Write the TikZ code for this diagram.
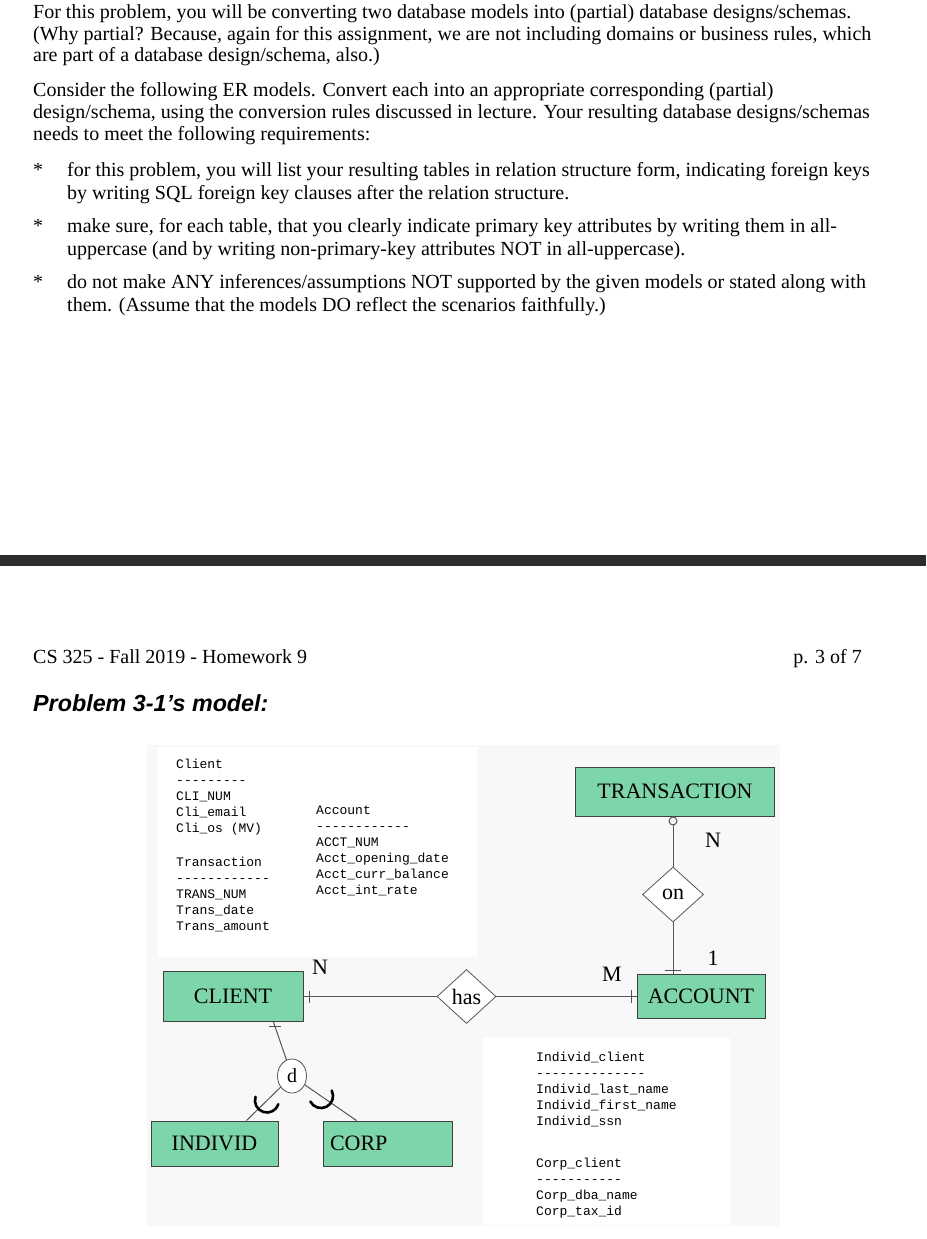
\documentclass[tikz,border=0pt]{standalone}
\usepackage{fontspec}
\setmainfont{Liberation Serif}
\setsansfont{Liberation Sans}
\setmonofont{Liberation Mono}
\usetikzlibrary{shapes.geometric, positioning, calc}

\definecolor{entgreen}{RGB}{124,214,169}
\definecolor{bggray}{RGB}{248,248,248}
\definecolor{linegray}{RGB}{85,85,85}
\definecolor{bardark}{RGB}{45,45,45}

\tikzset{
  bodytext/.style={anchor=base west, inner sep=0pt, font=\fontsize{20}{22}\selectfont},
  attr/.style={anchor=base west, inner sep=0pt, font=\ttfamily\fontsize{13}{16}\selectfont},
  entity/.style={rectangle, draw=black!75, fill=entgreen, line width=0.9pt, inner sep=0pt, font=\fontsize{22}{24}\selectfont},
  rel/.style={diamond, draw=linegray, fill=white, line width=0.8pt, inner sep=0pt, font=\fontsize{22}{24}\selectfont},
  card/.style={inner sep=0pt, font=\fontsize{22}{24}\selectfont},
  conn/.style={draw=linegray, line width=1pt},
  subsetmark/.style={line width=2.6pt, line cap=round}
}

\begin{document}
\begin{tikzpicture}[x=1pt, y=-1pt]
  \fill[white] (0,0) rectangle (926,1239);
  \useasboundingbox (0,0) rectangle (926,1239);

  % problem text
  \foreach \y/\txt [count=\i] in {
      19/{For this problem, you will be converting two database models into (partial) database designs/schemas.},
      40.5/{(Why partial? Because, again for this assignment, we are not including domains or business rules, which},
      62/{are part of a database design/schema, also.)},
      96/{Consider the following ER models. Convert each into an appropriate corresponding (partial)},
      118/{design/schema, using the conversion rules discussed in lecture. Your resulting database designs/schemas},
      140/{needs to meet the following requirements:}}
    \node[bodytext] (intro\i) at (33,\y) {\txt};
  \foreach \y [count=\i] in {176, 232, 288}
    \node[bodytext] (star\i) at (33,\y) {*};
  \foreach \y/\txt [count=\i] in {
      176/{for this problem, you will list your resulting tables in relation structure form, indicating foreign keys},
      199/{by writing SQL foreign key clauses after the relation structure.},
      232/{make sure, for each table, that you clearly indicate primary key attributes by writing them in all-},
      255/{uppercase (and by writing non-primary-key attributes NOT in all-uppercase).},
      288/{do not make ANY inferences/assumptions NOT supported by the given models or stated along with},
      311/{them. (Assume that the models DO reflect the scenarios faithfully.)}}
    \node[bodytext] (req\i) at (67,\y) {\txt};

  % page break
  \fill[bardark] (0,555) rectangle (926,566);
  \node[bodytext] (hdr) at (33,663) {CS 325 - Fall 2019 - Homework 9};
  \node[bodytext, anchor=base east] (pageno) at (862,663) {p. 3 of 7};
  \node[anchor=base west, inner sep=0pt, font=\sffamily\bfseries\itshape\fontsize{23.3}{26}\selectfont] (probtitle) at (33,711.5) {Problem 3-1's model:};

  % model background
  \fill[bggray] (147,745) rectangle (780,1226);
  \fill[white] (158,747) rectangle (477,957);
  \fill[white] (483,1038) rectangle (730,1225);

  % attribute lists
  \foreach \t [count=\i] in {Client, ---------, CLI\_NUM, Cli\_email, Cli\_os (MV)}
    \node[attr] (cli\i) at (176, 752.5+16*\i) {\t};
  \foreach \t [count=\i] in {Transaction, ------------, TRANS\_NUM, Trans\_date, Trans\_amount}
    \node[attr] (tra\i) at (176, 850.5+16*\i) {\t};
  \foreach \t [count=\i] in {Account, ------------, ACCT\_NUM, Acct\_opening\_date, Acct\_curr\_balance, Acct\_int\_rate}
    \node[attr] (acc\i) at (316, 798.5+16*\i) {\t};
  \foreach \t [count=\i] in {Individ\_client, --------------, Individ\_last\_name, Individ\_first\_name, Individ\_ssn}
    \node[attr] (ind\i) at (536, 1045.5+16*\i) {\t};
  \foreach \t [count=\i] in {Corp\_client, -----------, Corp\_dba\_name, Corp\_tax\_id}
    \node[attr] (cor\i) at (536, 1151.5+16*\i) {\t};

  % entities and relationships
  \node[entity, minimum width=199pt, minimum height=49pt] (trans) at (675,791.5) {TRANSACTION};
  \node[entity, minimum width=140pt, minimum height=50pt] (client) at (233,996.5) {CLIENT};
  \node[entity, minimum width=128pt, minimum height=44pt] (account) at (701,996.5) {ACCOUNT};
  \node[entity, minimum width=127pt, minimum height=45pt] (indiv) at (214.5,1143.5) {INDIVID};
  \node[entity, on grid, text width=115pt, inner xsep=7pt, minimum height=45pt, align=left] (corp) [right=173pt of indiv] {CORP};
  \node[rel, minimum width=59pt, minimum height=54pt] (has) at (466.5,996.5) {has};
  \node[rel, minimum width=61pt, minimum height=55pt] (on) at (673,894.5) {on};
  \node[ellipse, draw=linegray, fill=white, line width=0.8pt, inner sep=0pt,
        minimum width=29pt, minimum height=34pt, font=\fontsize{20}{20}\selectfont] (d) at (292,1076) {d};

  \node[card] (nclient) at (320,967) {N};
  \node[card] (macc) at (612,974) {M};
  \node[card] (ntrans) at (713,840) {N};
  \node[card] (oneacc) at (713,958) {1};

  % connectors
  \draw[conn] (client) -- (has);
  \draw[conn] (has) -- (account);
  \draw[conn] (on.north) -- (on.north |- trans.south);
  \draw[conn] (on.south) -- (on.south |- account.north);
  \coordinate (cbot) at ($(client.south east)+(-30,0)$);
  \coordinate (itop) at ($(indiv.north east)+(-32,0)$);
  \coordinate (ctop) at ($(corp.north west)+(34,0)$);
  \draw[conn] (cbot) -- (d);
  \draw[conn] (d) -- (itop);
  \draw[conn] (d) -- (ctop);

  % cardinality marks
  \draw[conn] ($(client.east)+(6,-6)$) -- ++(0,12);
  \draw[conn] ($(account.west)+(-5,-6.5)$) -- ++(0,13);
  \draw[conn] ($(on.south |- account.north)+(-8,-4)$) -- ++(16,0);
  \draw[conn] ($(cbot)!0.09!(d.center)$) ++(-6,0) -- ++(12,0);
  \draw[conn, fill=bggray] ($(on.north |- trans.south)+(0,4.5)$) circle[radius=4];

  % subset symbols
  \coordinate (isub) at ($(d.center)!0.55!(itop)$);
  \coordinate (csub) at ($(d.center)!0.45!(ctop)$);
  \draw[subsetmark] ($(isub)+(18:12)$) arc[start angle=18, end angle=198, radius=12];
  \draw[subsetmark] ($(csub)+(-27:12)$) arc[start angle=-27, end angle=153, radius=12];
\end{tikzpicture}
\end{document}
